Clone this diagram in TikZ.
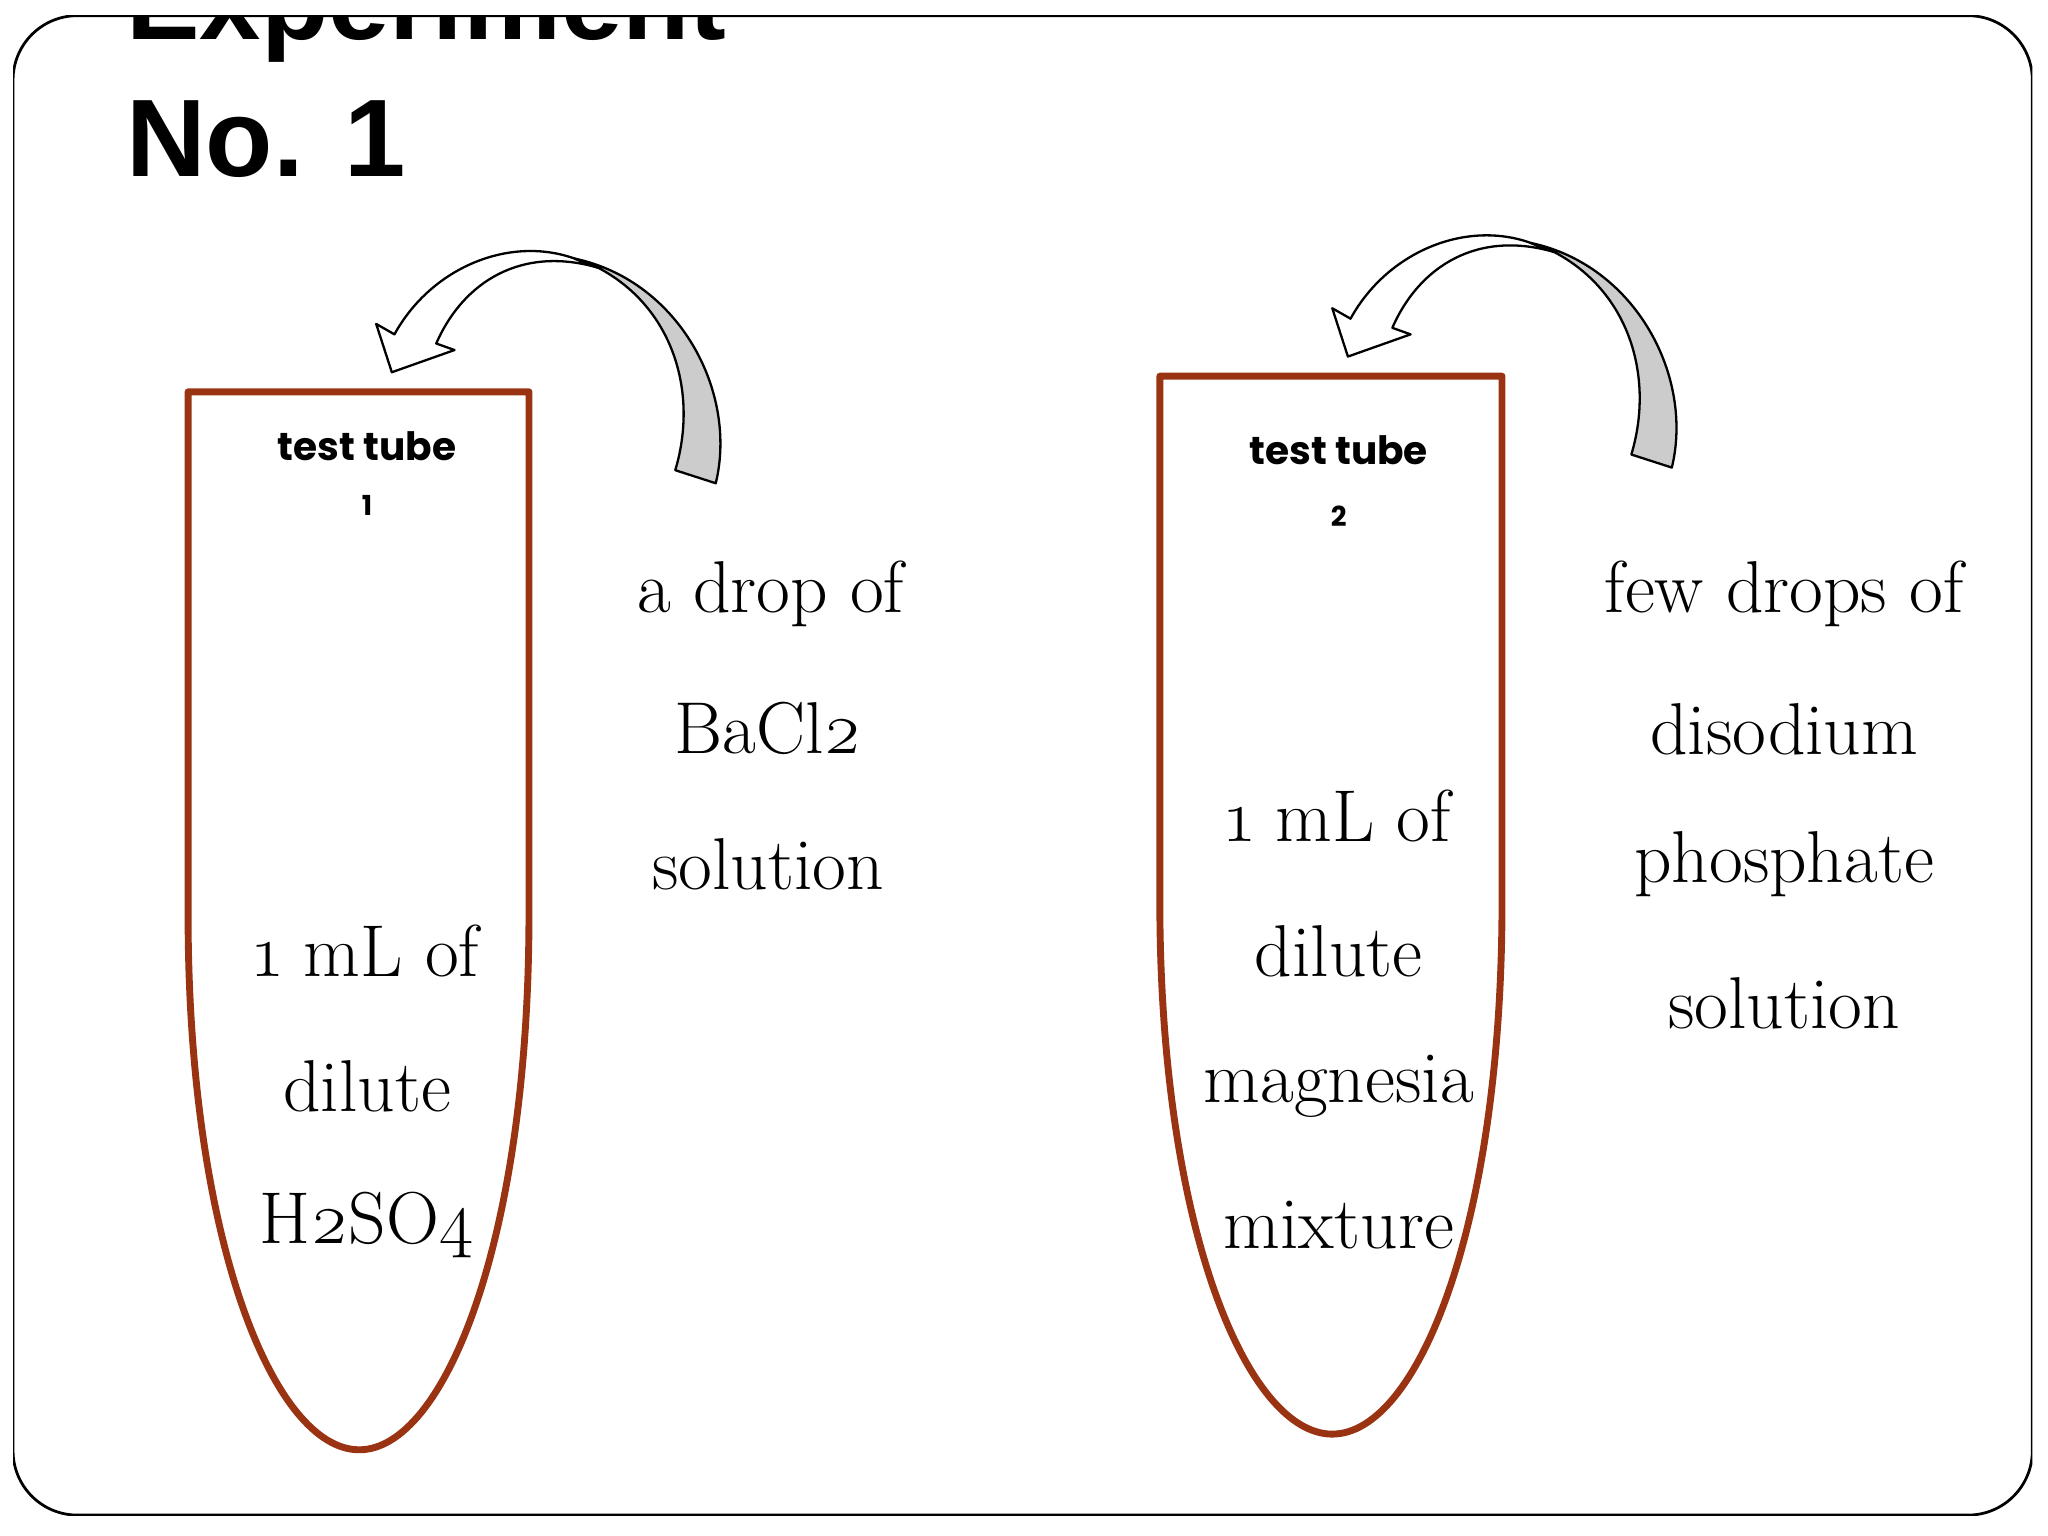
\documentclass[tikz,border=0pt]{standalone}
\usepackage{fontspec}
\setmainfont{Latin Modern Roman}[Numbers=OldStyle]
\newfontfamily\titlefont{Liberation Sans}
\newfontfamily\labfont{Poppins}
\begin{document}
\begin{tikzpicture}[x=0.01cm,y=-0.01cm,
  tube/.style={draw={rgb,255:red,153;green,51;blue,17},line width=1.5pt,line join=round},
  body/.style={font=\fontsize{16}{20}\selectfont},
  lab/.style={font=\labfont\bfseries\fontsize{8.5}{10}\selectfont},
  labnum/.style={font=\labfont\bfseries\fontsize{6}{7}\selectfont},
  arr/.style={draw=black,line width=0.5pt,line join=round}]
\useasboundingbox (0,0) rectangle (1568,1176);
\begin{scope}
\clip (10,12) rectangle (1556,1160);
\draw[line width=0.6pt,rounded corners=14pt] (10,12) rectangle (1556,1160);
\node[font=\titlefont\bfseries\fontsize{24}{28}\selectfont,anchor=base west,inner sep=0] (t1) at (96,30) {Experiment};
\node[font=\titlefont\bfseries\fontsize{24}{28}\selectfont,anchor=base west,inner sep=0] (t2) at (96,135) {No. 1};
\end{scope}
% tubes
\draw[tube] (144,700) -- (144,300) -- (405,300) -- (405,700) .. controls (405,950) and (340,1110) .. (275,1110) .. controls (210,1110) and (144,950) .. (144,700);
\draw[tube] (888,690) -- (888,288) -- (1150,288) -- (1150,690) .. controls (1150,940) and (1085,1098) .. (1020,1098) .. controls (955,1098) and (888,940) .. (888,690);
% arrows
\foreach \dx/\dy/\n in {0/0/a,732/-12/b}{
\begin{scope}[shift={(\dx,\dy)}]
\filldraw[arr,fill=white] (458,205) .. controls (400,188) and (355,215) .. (334,263) -- (348,268) -- (300,285) -- (288,248) -- (302,256) .. controls (330,205) and (390,180) .. (440,198) -- cycle;
\filldraw[arr,fill=black!20] (440,198) .. controls (520,215) and (565,300) .. (548,370) -- (517,360) .. controls (535,300) and (515,235) .. (458,205) -- cycle;
\end{scope}}
% texts
\node[lab] (l1) at (281,342) {test tube};
\node[labnum] (n1) at (281,387) {1};
\node[body] (a1) at (281,728) {1 mL of};
\node[body] (a2) at (281,832) {dilute};
\node[body] (a3) at (281,938) {H2SO4};
\node[body] (b1) at (590,455) {a drop of};
\node[body] (b2) at (588,558) {BaCl2};
\node[body] (b3) at (588,662) {solution};
\node[lab] (l2) at (1025,345) {test tube};
\node[labnum] (n2) at (1025,395) {2};
\node[body] (c1) at (1025,625) {1 mL of};
\node[body] (c2) at (1025,728) {dilute};
\node[body] (c3) at (1025,832) {magnesia};
\node[body] (c4) at (1025,938) {mixture};
\node[body] (d1) at (1366,455) {few drops of};
\node[body] (d2) at (1366,558) {disodium};
\node[body] (d3) at (1366,662) {phosphate};
\node[body] (d4) at (1366,768) {solution};
\end{tikzpicture}
\end{document}
